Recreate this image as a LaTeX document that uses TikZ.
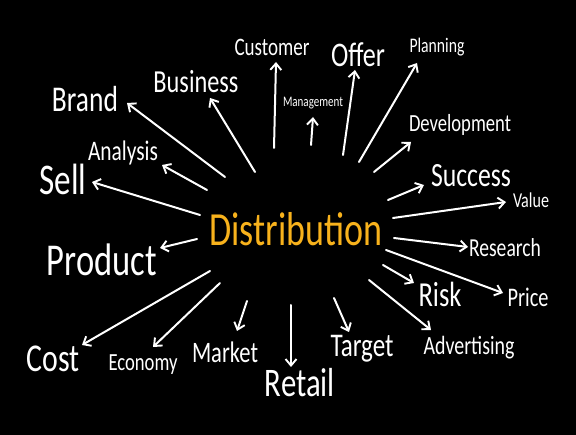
\documentclass[tikz,border=0pt]{standalone}
\usepackage{fontspec}
\usepackage{graphicx}
\setmainfont{Carlito}
\usetikzlibrary{arrows.meta}
\definecolor{distorange}{HTML}{F8B21C}
\newcommand\fitw[2]{\scalebox{1}[1.32]{\resizebox{#1pt}{!}{#2}}}
\tikzset{
  word/.style={text=white, inner sep=0pt, anchor=center, font=\fontsize{20}{20}\selectfont},
  conn/.style={draw=white, line width=2pt, line cap=round,
     -{Straight Barb[length=6.5pt,width=11pt,line width=1.9pt]}},
}
\begin{document}
\begin{tikzpicture}[x=1pt,y=-1pt]
\fill[black] (0,0) rectangle (576,435);
\useasboundingbox (0,0) rectangle (576,435);

\node[word, text=distorange] (dist) at (296,229) {\fitw{173}{Distribution}};

\node[word] (customer) at (272,47) {\fitw{75}{Customer}};
\node[word] (offer) at (358,55) {\fitw{54}{Offer}};
\node[word] (planning) at (437,47) {\fitw{55}{Planning}};
\node[word] (management) at (313,103) {\fitw{60}{Management}};
\node[word] (business) at (196,82) {\fitw{85}{Business}};
\node[word] (brand) at (85,99) {\fitw{66}{Brand}};
\node[word] (analysis) at (123,153) {\fitw{70}{Analysis}};
\node[word] (sell) at (63,179) {\fitw{47}{Sell}};
\node[word] (development) at (460,125) {\fitw{102}{Development}};
\node[word] (success) at (471,176) {\fitw{80}{Success}};
\node[word] (value) at (531,200) {\fitw{36}{Value}};
\node[word] (research) at (505,248) {\fitw{72}{Research}};
\node[word] (price) at (528,297) {\fitw{41}{Price}};
\node[word] (risk) at (440,294) {\fitw{43}{Risk}};
\node[word] (advertising) at (469,348) {\fitw{91}{Advertising}};
\node[word] (target) at (362,349) {\fitw{63}{Target}};
\node[word] (retail) at (300,383) {\fitw{70}{Retail}};
\node[word] (market) at (225,352) {\fitw{66}{Market}};
\node[word] (economy) at (143,365) {\fitw{69}{Economy}};
\node[word] (cost) at (53,359) {\fitw{53}{Cost}};
\node[word] (product) at (102,260) {\fitw{110}{Product}};

% arrow tails (around the centre) and heads (next to the words)
\coordinate (tCustomer) at (274,148); \coordinate (hCustomer) at (276,62);
\coordinate (tManagement) at (311,145); \coordinate (hManagement) at (313,117);
\coordinate (tOffer) at (343,155); \coordinate (hOffer) at (355,70);
\coordinate (tPlanning) at (359,162); \coordinate (hPlanning) at (417,63);
\coordinate (tDevelopment) at (374,172); \coordinate (hDevelopment) at (411,142);
\coordinate (tSuccess) at (388,200); \coordinate (hSuccess) at (424,185);
\coordinate (tValue) at (393,218); \coordinate (hValue) at (506,202);
\coordinate (tBusiness) at (255,172); \coordinate (hBusiness) at (210,98);
\coordinate (tBrand) at (225,177); \coordinate (hBrand) at (127,103);
\coordinate (tAnalysis) at (207,190); \coordinate (hAnalysis) at (162,165);
\coordinate (tSell) at (200,215); \coordinate (hSell) at (92,182);
\coordinate (tProduct) at (197,239); \coordinate (hProduct) at (160,248);
\coordinate (tCost) at (210,271); \coordinate (hCost) at (82,345);
\coordinate (tEconomy) at (220,283); \coordinate (hEconomy) at (153,347);
\coordinate (tMarket) at (247,301); \coordinate (hMarket) at (237,331);
\coordinate (tRetail) at (291,305); \coordinate (hRetail) at (291,367);
\coordinate (tTarget) at (334,298); \coordinate (hTarget) at (349,332);
\coordinate (tAdvertising) at (369,280); \coordinate (hAdvertising) at (431,330);
\coordinate (tRisk) at (383,265); \coordinate (hRisk) at (414,283);
\coordinate (tPrice) at (386,250); \coordinate (hPrice) at (503,293);
\coordinate (tResearch) at (394,238); \coordinate (hResearch) at (468,247);

\foreach \n in {Customer,Management,Offer,Planning,Development,Success,Value,
  Business,Brand,Analysis,Sell,Product,Cost,Economy,Market,Retail,Target,
  Advertising,Risk,Price,Research}
  \draw[conn] (t\n) -- (h\n);
\end{tikzpicture}
\end{document}
